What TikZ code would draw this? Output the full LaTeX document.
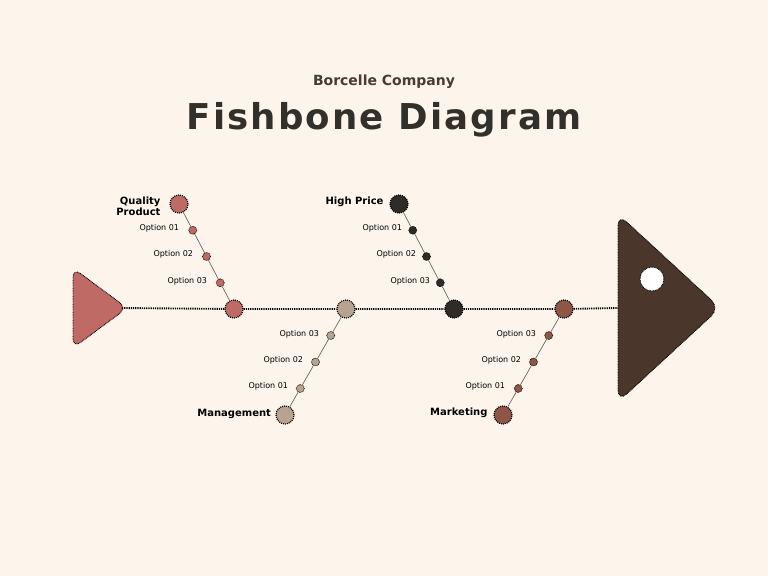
\documentclass[tikz,border=0pt]{standalone}
\usepackage{fontspec}
\setmainfont{DejaVu Sans}
\newfontfamily\titlefont[LetterSpace=6]{DejaVu Sans}

\definecolor{bgcream}{HTML}{FDF5EC}
\definecolor{rose}{HTML}{C06A66}
\definecolor{sand}{HTML}{B8A390}
\definecolor{charcoal}{HTML}{2F2C28}
\definecolor{rust}{HTML}{8F5647}
\definecolor{headbrown}{HTML}{4A362B}
\definecolor{titleink}{HTML}{33302B}
\definecolor{subink}{HTML}{4A3A31}
\definecolor{boneline}{HTML}{6E6258}

\tikzset{every picture/.style={line width=0.75pt}}
\tikzset{
  joint/.style={circle, draw=black, dash pattern=on 0.75pt off 0.75pt, line width=0.9pt, minimum size=13.5pt, inner sep=0pt},
  knot/.style={circle, draw=black, dash pattern=on 0.5pt off 0.5pt, line width=0.5pt, minimum size=6pt, inner sep=0pt},
  optlabel/.style={anchor=east, inner sep=0.75pt, font=\fontsize{6}{7}\selectfont, text=black},
  causelabel/.style={anchor=east, inner sep=0.75pt, font=\bfseries\fontsize{7.5}{8}\selectfont, align=right, text=black},
  spine/.style={black, dash pattern=on 0.9pt off 0.75pt, line width=1.4pt},
  bone/.style={boneline, line width=0.5pt},
  fishpart/.style={draw=black, dash pattern=on 0.6pt off 0.6pt, line width=0.7pt},
}

\begin{document}
\begin{tikzpicture}[x=0.75pt,y=0.75pt,yscale=-1,xscale=1]
%set diagram left start at 0, and has height of 576
\fill [bgcream] (0,0) rectangle (768,576);
\useasboundingbox (0,0) rectangle (768,576);

% Text Node
\node (company) at (384,81.5) [font=\bfseries\fontsize{10.5}{12}\selectfont, text=subink] {Borcelle Company};
% Text Node
\node (title) at (384,119.5) [font=\titlefont\bfseries\fontsize{26.7}{30}\selectfont, text=titleink] {Fishbone Diagram};

%Shape: Tail
\draw [fishpart, fill=rose, rounded corners=7pt] (73,268) -- (127,308) -- (73,348) -- cycle;
\coordinate (tailtip) at (122,308);
%Shape: Head
\draw [fishpart, fill=headbrown, rounded corners=9pt] (618,214) -- (720,308) -- (618,402) -- cycle;
\coordinate (headback) at (618,308);
\node (eye) at (652,279) [circle, fill=white, fishpart, minimum size=18pt] {};

% Joints on the spine
\node (qual0) at (234,309) [joint, fill=rose] {};
\node (mgmt0) at (346,309) [joint, fill=sand] {};
\node (price0) at (454,309) [joint, fill=charcoal] {};
\node (mkt0) at (564,309) [joint, fill=rust] {};

% Ends of the bones
\node (qualend) at (179,204) [joint, fill=rose] {};
\node (priceend) at (399,204) [joint, fill=charcoal] {};
\node (mgmtend) at (285,415) [joint, fill=sand] {};
\node (mktend) at (503,415) [joint, fill=rust] {};

% Small knots
\node (qual1) at (192.75,230.25) [knot, fill=rose] {};
\node (qual2) at (206.5,256.5) [knot, fill=rose] {};
\node (qual3) at (220.25,282.75) [knot, fill=rose] {};
\node (price1) at (412.75,230.25) [knot, fill=charcoal] {};
\node (price2) at (426.5,256.5) [knot, fill=charcoal] {};
\node (price3) at (440.25,282.75) [knot, fill=charcoal] {};
\node (mgmt3) at (330.75,335.5) [knot, fill=sand] {};
\node (mgmt2) at (315.5,362) [knot, fill=sand] {};
\node (mgmt1) at (300.25,388.5) [knot, fill=sand] {};
\node (mkt3) at (548.75,335.5) [knot, fill=rust] {};
\node (mkt2) at (533.5,362) [knot, fill=rust] {};
\node (mkt1) at (518.25,388.5) [knot, fill=rust] {};

%Straight Lines: spine
\draw [spine] (tailtip) -- (qual0) -- (mgmt0) -- (price0) -- (mkt0) -- (headback);
%Straight Lines: bones
\draw [bone] (qualend) -- (qual1) -- (qual2) -- (qual3) -- (qual0);
\draw [bone] (priceend) -- (price1) -- (price2) -- (price3) -- (price0);
\draw [bone] (mgmtend) -- (mgmt1) -- (mgmt2) -- (mgmt3) -- (mgmt0);
\draw [bone] (mktend) -- (mkt1) -- (mkt2) -- (mkt3) -- (mkt0);

% Text Node
\node (qualtext) at (162,206.5) [causelabel] {Quality\\Product};
% Text Node
\node (pricetext) at (385,202) [causelabel] {High Price};
% Text Node
\node (mgmttext) at (272.5,414) [causelabel] {Management};
% Text Node
\node (mkttext) at (489,413) [causelabel] {Marketing};

% Text Node
\node (qual1t) at (180.5,228.5) [optlabel] {Option 01};
\node (qual2t) at (194.5,254) [optlabel] {Option 02};
\node (qual3t) at (208.5,281.5) [optlabel] {Option 03};
% Text Node
\node (price1t) at (403.5,228.5) [optlabel] {Option 01};
\node (price2t) at (417.5,254) [optlabel] {Option 02};
\node (price3t) at (431.5,281.5) [optlabel] {Option 03};
% Text Node
\node (mgmt3t) at (320.5,334) [optlabel] {Option 03};
\node (mgmt2t) at (304.5,360.5) [optlabel] {Option 02};
\node (mgmt1t) at (289.5,386.5) [optlabel] {Option 01};
% Text Node
\node (mkt3t) at (537.5,334) [optlabel] {Option 03};
\node (mkt2t) at (522.5,360.5) [optlabel] {Option 02};
\node (mkt1t) at (506.5,386.5) [optlabel] {Option 01};

\end{tikzpicture}
\end{document}
